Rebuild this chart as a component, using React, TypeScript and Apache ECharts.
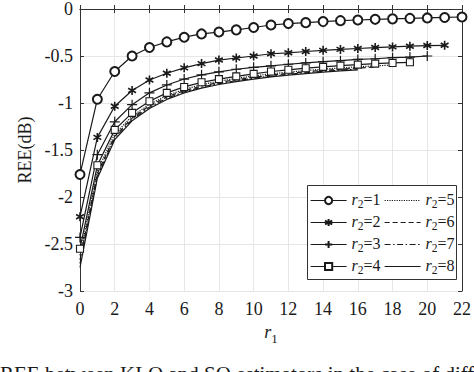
import React, { useEffect, useRef } from 'react';
import * as echarts from 'echarts';

const r1Values = [0, 1, 2, 3, 4, 5, 6, 7, 8, 9, 10, 11, 12, 13, 14, 15, 16, 17, 18, 19, 20, 21, 22];
const xTicks = [0, 2, 4, 6, 8, 10, 12, 14, 16, 18, 20, 22];
const yTicks = [0, -0.5, -1, -1.5, -2, -2.5, -3];
const seriesNames = ['r2=1', 'r2=2', 'r2=3', 'r2=4', 'r2=5', 'r2=6', 'r2=7', 'r2=8'];

const reeR2_1 = [-1.76, -0.96, -0.665, -0.5, -0.41, -0.35, -0.3, -0.265, -0.245, -0.222, -0.197, -0.17, -0.155, -0.145, -0.134, -0.124, -0.117, -0.11, -0.105, -0.1, -0.095, -0.09, -0.085];
const reeR2_2 = [-2.21, -1.366, -1.035, -0.867, -0.756, -0.683, -0.626, -0.581, -0.543, -0.521, -0.5, -0.476, -0.466, -0.452, -0.44, -0.43, -0.42, -0.41, -0.403, -0.396, -0.389, -0.386];
const reeR2_3 = [-2.43, -1.55, -1.2, -1.018, -0.892, -0.808, -0.745, -0.7, -0.668, -0.641, -0.62, -0.605, -0.588, -0.574, -0.56, -0.55, -0.536, -0.529, -0.518, -0.511, -0.5];
const reeR2_4 = [-2.55, -1.663, -1.286, -1.105, -0.982, -0.892, -0.829, -0.78, -0.746, -0.717, -0.69, -0.665, -0.647, -0.63, -0.616, -0.602, -0.592, -0.581, -0.574, -0.567];
const reeR2_5 = [-2.62, -1.72, -1.33, -1.14, -1.015, -0.92, -0.855, -0.805, -0.768, -0.738, -0.712, -0.69, -0.672, -0.655, -0.64, -0.627, -0.615, -0.605, -0.596];
const reeR2_6 = [-2.67, -1.75, -1.355, -1.16, -1.03, -0.935, -0.87, -0.82, -0.782, -0.752, -0.726, -0.704, -0.685, -0.668, -0.653, -0.64, -0.628, -0.618];
const reeR2_7 = [-2.71, -1.78, -1.375, -1.175, -1.045, -0.95, -0.882, -0.832, -0.793, -0.762, -0.737, -0.714, -0.695, -0.678, -0.663, -0.65, -0.638];
const reeR2_8 = [-2.75, -1.8, -1.39, -1.19, -1.058, -0.962, -0.893, -0.842, -0.803, -0.772, -0.746, -0.723, -0.704, -0.687, -0.672, -0.659, -0.647];

const allSeries = [reeR2_1, reeR2_2, reeR2_3, reeR2_4, reeR2_5, reeR2_6, reeR2_7, reeR2_8];

const SERIF = '"Liberation Serif", "Times New Roman", serif';
const INK = '#1a1a1a';
const FRAME = '#333333';

const asterisk = 'path://M0,-5L0,5M-4.33,-2.5L4.33,2.5M-4.33,2.5L4.33,-2.5';
const plus = 'path://M0,-5L0,5M-5,0L5,0';
const square = 'path://M-3,-3L3,-3L3,3L-3,3Z';

const looks: any[] = [
  { symbol: 'emptyCircle', symbolSize: 9, type: 'solid', marker: true, fill: INK, bw: 1.2 },
  { symbol: asterisk, symbolSize: 9, type: 'solid', marker: true, fill: INK, bw: 1.6 },
  { symbol: plus, symbolSize: 10, type: 'solid', marker: true, fill: INK, bw: 1.2 },
  { symbol: square, symbolSize: 7, type: 'solid', marker: true, fill: '#ffffff', bw: 1.1 },
  { symbol: 'circle', symbolSize: 0, type: 'dotted', marker: false, fill: INK, bw: 1 },
  { symbol: 'circle', symbolSize: 0, type: [5, 3], marker: false, fill: INK, bw: 1 },
  { symbol: 'circle', symbolSize: 0, type: [6, 2.5, 1.5, 2.5], marker: false, fill: INK, bw: 1 },
  { symbol: 'circle', symbolSize: 0, type: 'solid', marker: false, fill: INK, bw: 1 },
];

const legendRich = {
  i: { fontFamily: SERIF, fontStyle: 'italic', fontSize: 16, lineHeight: 16, verticalAlign: 'top', color: INK },
  s: { fontFamily: SERIF, fontSize: 11.5, lineHeight: 19, verticalAlign: 'bottom', color: INK },
  n: { fontFamily: SERIF, fontSize: 16, lineHeight: 16, verticalAlign: 'top', color: INK },
};

export default function App() {
  const ref = useRef<HTMLDivElement>(null);
  useEffect(() => {
    const chart = echarts.init(ref.current!, null, { renderer: 'svg' });
    const series = seriesNames.map((name, k) => ({
      name,
      type: 'line',
      data: allSeries[k].map((v, i) => [r1Values[i], v]),
      symbol: looks[k].symbol,
      symbolSize: looks[k].symbolSize,
      symbolKeepAspect: true,
      showSymbol: looks[k].marker,
      lineStyle: { color: INK, width: 1.2, type: looks[k].type },
      itemStyle: {
        color: looks[k].fill,
        borderColor: INK,
        borderWidth: looks[k].bw,
      },
      emphasis: { disabled: true },
      z: 2,
    }));

    const legendData = seriesNames.map((name, k) =>
      looks[k].marker ? { name } : { name, itemStyle: { opacity: 0 } }
    );

    const legendCommon = {
      orient: 'vertical',
      top: 191,
      itemWidth: 36,
      itemHeight: 9,
      itemGap: 3,
      padding: 0,
      selectedMode: false,
      formatter: (name: string) => `{i|r}{s|2}{n|=${name.split('=')[1]}}`,
      textStyle: { rich: legendRich },
      lineStyle: { width: 1.2 },
      z: 5,
    };

    const option: any = {
      animation: false,
      backgroundColor: '#ffffff',
      grid: { left: 80, right: 11, top: 5, bottom: 81, containLabel: false },
      xAxis: [
        {
          type: 'value',
          min: xTicks[0],
          max: xTicks[xTicks.length - 1],
          interval: 2,
          name: '{i|r}{s|1}',
          nameLocation: 'middle',
          nameGap: 27,
          nameTextStyle: {
            rich: {
              i: { fontFamily: SERIF, fontStyle: 'italic', fontSize: 18, lineHeight: 18, verticalAlign: 'top', color: INK },
              s: { fontFamily: SERIF, fontSize: 13, lineHeight: 22, verticalAlign: 'bottom', color: INK },
            },
          },
          axisLine: { show: true, lineStyle: { color: FRAME, width: 1 } },
          axisTick: { show: true, inside: true, length: 4, lineStyle: { color: FRAME } },
          axisLabel: { margin: 9, fontFamily: SERIF, fontSize: 18, color: INK },
          splitLine: { show: true, lineStyle: { color: '#e6e6e6', width: 1 } },
        },
        {
          type: 'value',
          position: 'top',
          min: xTicks[0],
          max: xTicks[xTicks.length - 1],
          interval: 2,
          axisLine: { show: true, onZero: false, lineStyle: { color: FRAME, width: 1 } },
          axisTick: { show: true, inside: true, length: 4, lineStyle: { color: FRAME } },
          axisLabel: { show: false },
          splitLine: { show: false },
        },
      ],
      yAxis: [
        {
          type: 'value',
          min: yTicks[yTicks.length - 1],
          max: yTicks[0],
          interval: 0.5,
          name: 'REE(dB)',
          nameLocation: 'middle',
          nameGap: 38,
          nameTextStyle: { fontFamily: SERIF, fontSize: 18, color: INK },
          axisLine: { show: true, onZero: false, lineStyle: { color: FRAME, width: 1 } },
          axisTick: { show: true, inside: true, length: 4, lineStyle: { color: FRAME } },
          axisLabel: { margin: 7, fontFamily: SERIF, fontSize: 18, color: INK, formatter: (v: number) => String(v) },
          splitLine: { show: true, lineStyle: { color: '#e6e6e6', width: 1 } },
        },
        {
          type: 'value',
          position: 'right',
          min: yTicks[yTicks.length - 1],
          max: yTicks[0],
          interval: 0.5,
          axisLine: { show: true, onZero: false, lineStyle: { color: FRAME, width: 1 } },
          axisTick: { show: true, inside: true, length: 4, lineStyle: { color: FRAME } },
          axisLabel: { show: false },
          splitLine: { show: false },
        },
      ],
      legend: [
        { ...legendCommon, left: 310, data: legendData.slice(0, 4) },
        { ...legendCommon, left: 384, data: legendData.slice(4, 8) },
      ],
      graphic: [
        {
          type: 'rect',
          z: 3,
          shape: { x: 307.5, y: 185.5, width: 149, height: 94 },
          style: { fill: '#ffffff', stroke: FRAME, lineWidth: 1 },
        },
        {
          type: 'text',
          left: 0,
          top: 363,
          z: 3,
          style: {
            text: 'REE between KLQ and SQ estimators in the case of different',
            font: `21px ${SERIF}`,
            fill: INK,
          },
        },
      ],
      series,
    };
    chart.setOption(option);
    return () => chart.dispose();
  }, []);
  return (
    <div
      ref={ref}
      style={{ position: 'fixed', left: 0, top: 0, width: 474, height: 372, background: '#ffffff' }}
    />
  );
}
